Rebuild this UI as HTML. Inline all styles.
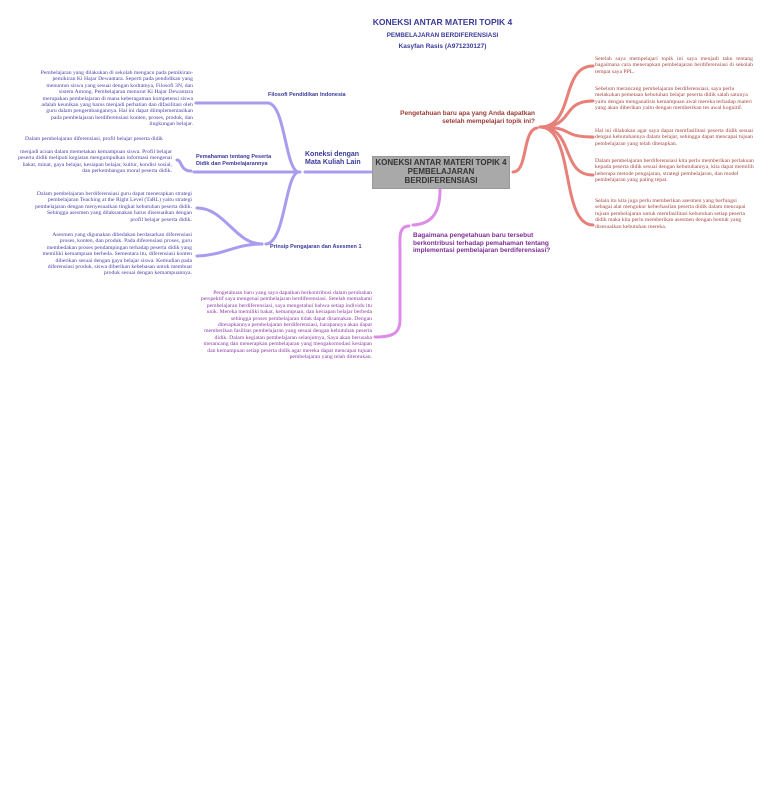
<!DOCTYPE html>
<html><head><meta charset="utf-8"><style>
body{margin:0;background:#fff;width:768px;height:792px;position:relative;overflow:hidden;font-family:"Liberation Serif",serif}
.t{position:absolute;font-size:5.7px;line-height:6.4px}
.b{color:#4a3fa8}.r{color:#a5463f}.p{color:#8a3aa6}
.s{font-family:"Liberation Sans",sans-serif;font-weight:bold;position:absolute}
</style></head><body>
<svg width="768" height="792" style="position:absolute;left:0;top:0" fill="none" stroke-linecap="round">
<g stroke="#a89cef" stroke-width="3">
<path d="M371 172 H305"/>
<path d="M300 172 H194"/>
<path d="M298 172 C285 168 285 104 268 103 H196"/>
<path d="M298 172 C285 176 285 243 266 244"/>
<path d="M262 244 C235 244 225 208 197 208"/>
<path d="M262 244 C235 244 225 255 197 256"/>
<path d="M191 171 C180 171 182 160 177 160"/>
</g>
<g stroke="#e8807a" stroke-width="3">
<path d="M513 172 C528 172 522 130 537 128"/>
<path d="M540 127 C575 127 560 66 593 66"/>
<path d="M540 127 C575 127 560 101 593 101"/>
<path d="M540 127 C575 127 560 137 593 137"/>
<path d="M540 127 C575 127 560 175 593 175"/>
<path d="M540 127 C575 127 560 225 593 225"/>
</g>
<g stroke="#dd8de8" stroke-width="3">
<path d="M440 190 C440 215 430 224 413 225"/>
<path d="M409 226 C398 226 400 240 400 250 V320 C400 335 390 337 375 337"/>
</g>
</svg>
<div class="s" style="left:370px;top:17px;width:145px;text-align:center;font-size:8.5px;color:#3a3a9a">KONEKSI ANTAR MATERI TOPIK 4</div>
<div class="s" style="left:370px;top:32px;width:145px;text-align:center;font-size:6.3px;color:#3a3a9a">PEMBELAJARAN BERDIFERENSIASI</div>
<div class="s" style="left:370px;top:43px;width:145px;text-align:center;font-size:6.5px;color:#3a3a9a">Kasyfan Rasis (A971230127)</div>
<div class="s" style="left:372px;top:156px;width:138px;height:33px;background:#a9a9a9;border:1px solid #999;color:#333;font-size:8px;line-height:9px;text-align:center;padding-top:1px;box-sizing:border-box;white-space:nowrap">KONEKSI ANTAR MATERI TOPIK 4<br>PEMBELAJARAN<br>BERDIFERENSIASI</div>
<div class="s" style="left:305px;top:151px;font-size:7px;line-height:7.5px;color:#3a3a9a">Koneksi dengan<br>Mata Kuliah Lain</div>
<div class="s" style="left:268px;top:92px;font-size:5.5px;color:#3a3a9a">Filosofi Pendidikan Indonesia</div>
<div class="s" style="left:196px;top:154px;font-size:5.5px;line-height:7px;color:#3a3a9a">Pemahaman tentang Peserta<br>Didik dan Pembelajarannya</div>
<div class="s" style="left:270px;top:244px;font-size:5.5px;color:#3a3a9a">Prinsip Pengajaran dan Asesmen 1</div>
<div class="s" style="left:380px;top:110px;width:155px;text-align:right;font-size:6.5px;line-height:7.5px;color:#9a3b35">Pengetahuan baru apa yang Anda dapatkan<br>setelah mempelajari topik ini?</div>
<div class="s" style="left:413px;top:232px;font-size:6.5px;line-height:7.5px;color:#7d2d95">Bagaimana pengetahuan baru tersebut<br>berkontribusi terhadap pemahaman tentang<br>implementasi pembelajaran berdiferensiasi?</div>

<div class="t b" style="left:40px;top:70px;width:153px;text-align:right">Pembelajaran yang dilakukan di sekolah mengacu pada pemikiran- pemikiran Ki Hajar Dewantara. Seperti pada pendidikan yang menuntun siswa yang sesuai dengan kodratnya, Filosofi 3N, dan sistem Among. Pembelajaran menurut Ki Hajar Dewantara merupakan pembelajaran di mana keberagaman kompetensi siswa adalah keunikan yang harus menjadi perhatian dan difasilitasi oleh guru dalam pengembangannya. Hal ini dapat diimplementasikan pada pembelajaran berdiferensiasi konten, proses, produk, dan lingkungan belajar.</div>
<div class="t b" style="left:25px;top:136px">Dalam pembelajaran diferensiasi, profil belajar peserta didik</div>
<div class="t b" style="left:15px;top:149px;width:157px;text-align:right">menjadi acuan dalam memetakan kemampuan siswa. Profil belajar peserta didik meliputi kegiatan mengumpulkan informasi mengenai bakat, minat, gaya belajar, kesiapan belajar, kultur, kondisi sosial, dan perkembangan moral peserta didik.</div>
<div class="t b" style="left:35px;top:191px;width:157px;text-align:right">Dalam pembelajaran berdiferensiasi guru dapat menerapkan strategi pembelajaran Teaching at the Right Level (TaRL) yaitu strategi pembelajaran dengan menyesuaikan tingkat kebutuhan peserta didik. Sehingga asesmen yang dilaksanakan harus disesuaikan dengan profil belajar peserta didik.</div>
<div class="t b" style="left:35px;top:232px;width:157px;text-align:right">Asesmen yang digunakan dibedakan berdasarkan diferensiasi proses, konten, dan produk. Pada diferensiasi proses, guru membedakan proses pendampingan terhadap peserta didik yang memiliki kemampuan berbeda. Sementara itu, diferensiasi konten diberikan sesuai dengan gaya belajar siswa. Kemudian pada diferensiasi produk, siswa diberikan kebebasan untuk membuat produk sesuai dengan kemampuannya.</div>

<div class="t r" style="left:595px;top:56px;width:158px;text-align:justify">Setelah saya mempelajari topik ini saya menjadi tahu tentang bagaimana cara menerapkan pembelajaran berdiferensiasi di sekolah tempat saya PPL.</div>
<div class="t r" style="left:595px;top:86px;width:158px">Sebelum merancang pembelajaran berdiferensiasi, saya perlu melakukan pemetaan kebutuhan belajar peserta didik salah satunya yaitu dengan menganalisis kemampuan awal mereka terhadap materi yang akan diberikan yaitu dengan memberikan tes awal kognitif.</div>
<div class="t r" style="left:595px;top:128px;width:158px;text-align:justify">Hal ini dilakukan agar saya dapat memfasilitasi peserta didik sesuai dengan kebutuhannya dalam belajar, sehingga dapat mencapai tujuan pembelajaran yang telah ditetapkan.</div>
<div class="t r" style="left:595px;top:158px;width:160px">Dalam pembelajaran berdiferensiasi kita perlu memberikan perlakuan kepada peserta didik sesuai dengan kebutuhannya, kita dapat memilih beberapa metode pengajaran, strategi pembelajaran, dan model pembelajaran yang paling tepat.</div>
<div class="t r" style="left:595px;top:198px;width:158px">Selain itu kita juga perlu memberikan asesmen yang berfungsi sebagai alat mengukur keberhasilan peserta didik dalam mencapai tujuan pembelajaran untuk memfasilitasi kebutuhan setiap peserta didik maka kita perlu memberikan asesmen dengan bentuk yang disesuaikan kebutuhan mereka.</div>

<div class="t p" style="left:200px;top:290px;width:172px;text-align:right">Pengetahuan baru yang saya dapatkan berkontribusi dalam perubahan perspektif saya mengenai pembelajaran berdiferensiasi. Setelah memahami pembelajaran berdiferensiasi, saya mengetahui bahwa setiap individu itu unik. Mereka memiliki bakat, kemampuan, dan kesiapan belajar berbeda sehingga proses pembelajaran tidak dapat disamakan. Dengan diterapkannya pembelajaran berdiferensiasi, harapannya akan dapat memberikan fasilitas pembelajaran yang sesuai dengan kebutuhan peserta didik. Dalam kegiatan pembelajaran selanjutnya, Saya akan berusaha merancang dan menerapkan pembelajaran yang mengakomodasi kesiapan dan kemampuan setiap peserta didik agar mereka dapat mencapai tujuan pembelajaran yang telah ditentukan.</div>
</body></html>
